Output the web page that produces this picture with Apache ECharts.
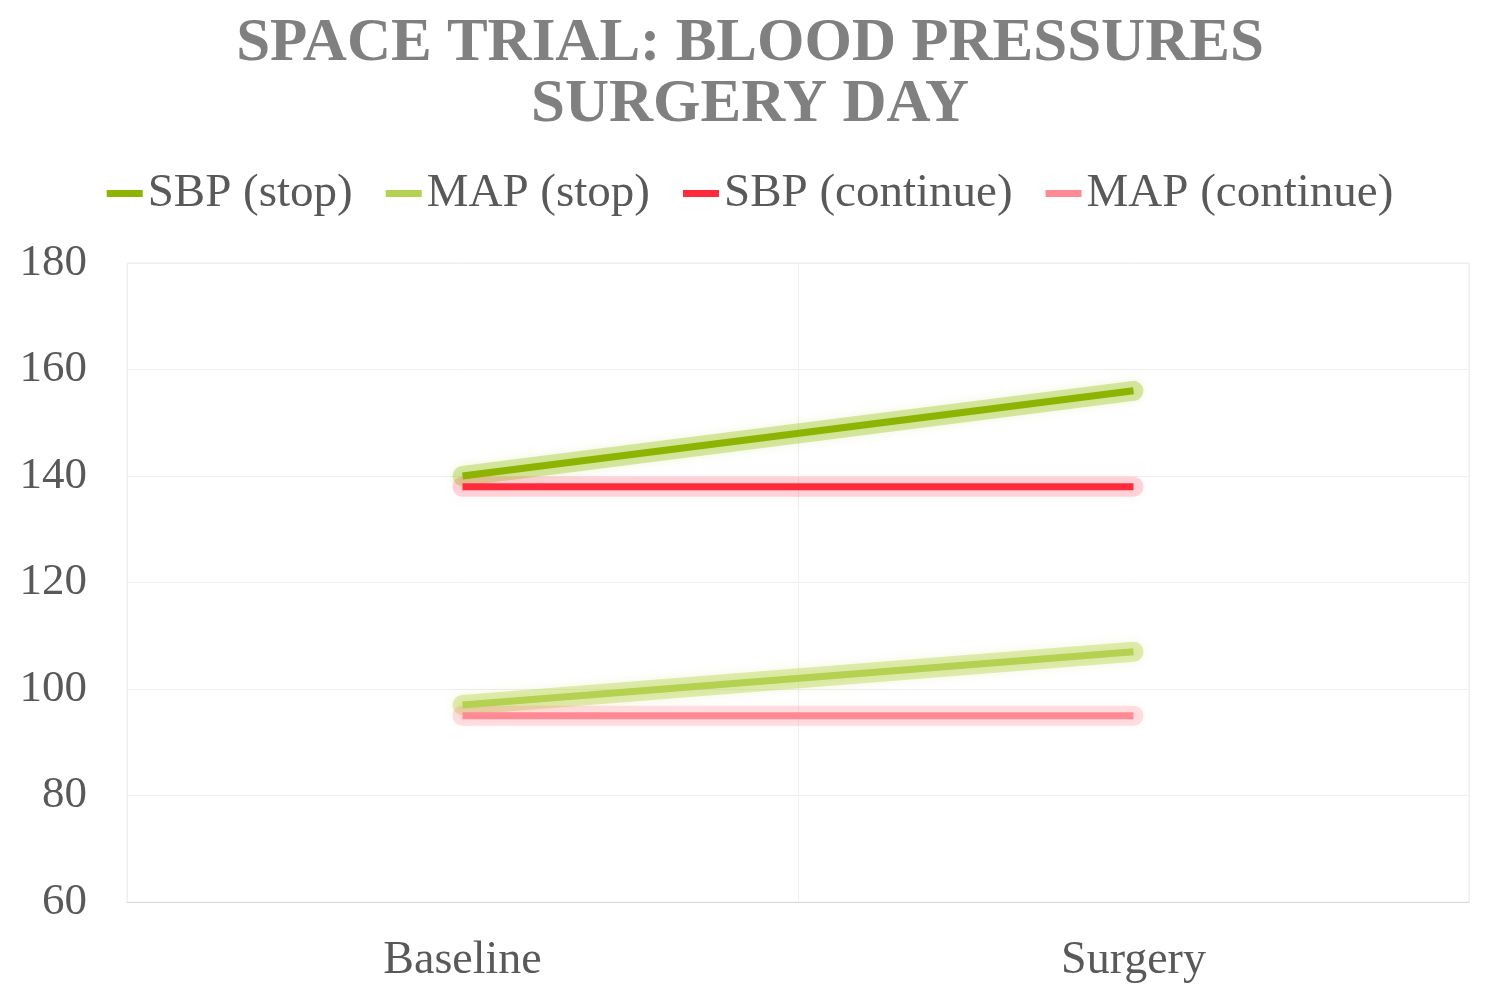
<!DOCTYPE html>
<html>
<head>
<meta charset="utf-8">
<title>SPACE trial: blood pressures</title>
<script src="https://cdn.jsdelivr.net/npm/echarts@6/dist/echarts.min.js"></script>
<style>
  html, body { margin: 0; padding: 0; background: #fff; }
  #chart { width: 1500px; height: 1001px; }
</style>
</head>
<body>
<div id="chart"></div>
<script>
  // data
  var categories = ['Baseline', 'Surgery'];
  var sbpStop = [140, 156];
  var mapStop = [97, 107];
  var sbpContinue = [138, 138];
  var mapContinue = [95, 95];
  var yTicks = [60, 80, 100, 120, 140, 160, 180];

  var serif = '"Liberation Serif", "DejaVu Serif", serif';

  // soft wide band under each line (the glow effect)
  function glow(name, data, glowColor) {
    return {
      name: name + ' glow',
      type: 'line',
      data: data,
      symbol: 'none',
      silent: true,
      z: 1,
      lineStyle: {
        color: glowColor,
        width: 20,
        cap: 'round',
        shadowColor: glowColor,
        shadowBlur: 10
      },
      emphasis: { disabled: true },
      tooltip: { show: false }
    };
  }

  function line(name, data, color) {
    return {
      name: name,
      type: 'line',
      data: data,
      symbol: 'none',
      z: 3,
      itemStyle: { color: color },
      lineStyle: { color: color, width: 7, cap: 'butt' },
      emphasis: { disabled: true }
    };
  }

  var chart = echarts.init(document.getElementById('chart'));
  chart.setOption({
    animation: false,
    title: {
      text: 'SPACE TRIAL: BLOOD PRESSURES\nSURGERY DAY',
      left: 'center',
      top: 9,
      textStyle: {
        fontFamily: serif,
        fontWeight: 'bold',
        fontSize: 61,
        lineHeight: 61,
        color: '#808080'
      }
    },
    legend: {
      top: 165,
      left: 'center',
      itemWidth: 36,
      itemHeight: 7,
      itemGap: 33,
      icon: 'rect',
      textStyle: {
        fontFamily: serif,
        fontSize: 47,
        color: '#595959'
      },
      data: ['SBP (stop)', 'MAP (stop)', 'SBP (continue)', 'MAP (continue)']
    },
    grid: {
      left: 127,
      right: 31,
      top: 263,
      bottom: 99,
      show: true,
      borderColor: '#eeeeee',
      borderWidth: 1
    },
    xAxis: {
      type: 'category',
      data: categories,
      boundaryGap: true,
      axisLine: { lineStyle: { color: '#d9d9d9', width: 1 } },
      axisTick: { show: false },
      splitLine: { show: true, lineStyle: { color: '#eeeeee' } },
      axisLabel: {
        fontFamily: serif,
        fontSize: 46,
        color: '#595959',
        margin: 36
      }
    },
    yAxis: {
      type: 'value',
      min: yTicks[0],
      max: yTicks[yTicks.length - 1],
      interval: 20,
      axisLine: { show: false },
      axisTick: { show: false },
      splitLine: { lineStyle: { color: '#eeeeee' } },
      axisLabel: {
        fontFamily: serif,
        fontSize: 45,
        color: '#595959',
        margin: 40
      }
    },
    series: [
      glow('SBP (stop)', sbpStop, 'rgba(160,200,40,0.4)'),
      glow('MAP (stop)', mapStop, 'rgba(190,215,90,0.45)'),
      glow('SBP (continue)', sbpContinue, 'rgba(255,90,110,0.25)'),
      glow('MAP (continue)', mapContinue, 'rgba(255,130,140,0.25)'),
      line('SBP (stop)', sbpStop, '#8cb400'),
      line('MAP (stop)', mapStop, '#b5d152'),
      line('SBP (continue)', sbpContinue, '#ff2a3c'),
      line('MAP (continue)', mapContinue, '#ff8a93')
    ]
  });
</script>
</body>
</html>
